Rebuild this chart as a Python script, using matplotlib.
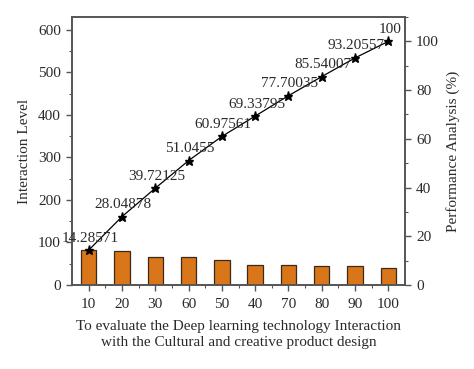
import matplotlib
matplotlib.use("Agg")
import matplotlib.pyplot as plt
from matplotlib.ticker import MultipleLocator, FixedLocator
import numpy as np

plt.rcParams['font.family'] = ['Liberation Serif', 'DejaVu Serif']

categories = ["10", "20", "30", "60", "50", "40", "70", "80", "90", "100"]
interaction = [82, 80, 66, 66, 58, 48, 48, 45, 45, 41]
performance = [14.28571, 28.04878, 39.72125, 51.0455, 60.97561, 69.33795,
               77.70035, 85.54007, 93.20557, 100]
perf_labels = ["14.28571", "28.04878", "39.72125", "51.0455", "60.97561",
               "69.33795", "77.70035", "85.54007", "93.20557", "100"]

fig = plt.figure(figsize=(4.74, 3.69), dpi=100)
ax = fig.add_axes([72/474, 1-285/369, (405-72)/474, (285-17)/369])
ax2 = ax.twinx()

x = np.arange(len(categories))
spine_c = "#555555"
txt_c = "#2a2a2a"
fs = 11

ax.bar(x, interaction, width=0.46, color="#D9761A", edgecolor="#3a2a1a", linewidth=0.9, zorder=2)
ax.set_xlim(-0.5, 9.5)
ax.set_ylim(0, 630)
ax.yaxis.set_major_locator(MultipleLocator(100))
ax.yaxis.set_minor_locator(MultipleLocator(50))
ax.set_xticks(x)
ax.set_xticklabels(categories)
ax.xaxis.set_minor_locator(FixedLocator(x[:-1] + 0.5))

ax2.plot(x, performance, color="black", linewidth=0.9, marker="*", markersize=6.5, zorder=3)
for xi, yi, lab in zip(x, performance, perf_labels):
    ax2.annotate(lab, (xi, yi), xytext=(1, 4), textcoords="offset points",
                 ha="center", va="bottom", fontsize=fs, color=txt_c)
ax2.set_ylim(0, 110)
ax2.yaxis.set_major_locator(MultipleLocator(20))
ax2.yaxis.set_minor_locator(MultipleLocator(10))

for a in (ax, ax2):
    for s in a.spines.values():
        s.set_color(spine_c)
        s.set_linewidth(1.2)
    a.tick_params(which="major", direction="out", length=4, width=1, color=spine_c,
                  labelsize=fs, labelcolor=txt_c, pad=4)
    a.tick_params(which="minor", direction="out", length=2.5, width=0.8, color=spine_c)
ax.tick_params(axis="x", pad=5)

ax.set_ylabel("Interaction Level", fontsize=fs, color=txt_c, labelpad=5)
ax2.set_ylabel("Performance Analysis (%)", fontsize=fs, color=txt_c, labelpad=5)
ax.set_xlabel("To evaluate the Deep learning technology Interaction\nwith the Cultural and creative product design",
              fontsize=fs, color=txt_c, linespacing=1.3, labelpad=7)

fig.savefig("out.png", dpi=100)
